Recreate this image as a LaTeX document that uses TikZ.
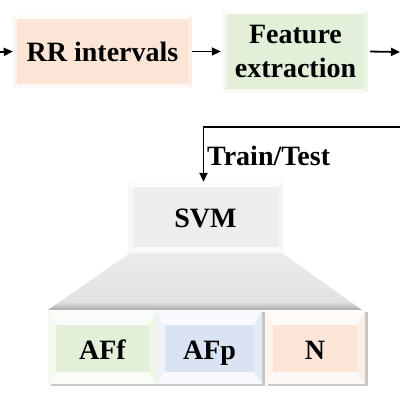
\documentclass[tikz,border=0pt]{standalone}
\usepackage{fontspec}
\setmainfont{Liberation Serif}
\usetikzlibrary{arrows.meta,shadows}
\definecolor{peach}{HTML}{FBE5D6}
\definecolor{lgreen}{HTML}{E2F0D9}
\definecolor{lblue}{HTML}{DAE3F3}
\definecolor{lgray}{HTML}{EDEDED}
\tikzset{
  bev/.style n args={4}{fill=#1, draw=none, inner sep=0pt,
    font=\bfseries\fontsize{28}{34}\selectfont,
    path picture={
      \fill[white,opacity=.85] (path picture bounding box.north west) -- (path picture bounding box.north east)
        -- ([xshift=-#2,yshift=-#3]path picture bounding box.north east) -- ([xshift=#2,yshift=-#3]path picture bounding box.north west) -- cycle;
      \fill[white,opacity=.8] (path picture bounding box.south west) -- (path picture bounding box.south east)
        -- ([xshift=-#2,yshift=#4]path picture bounding box.south east) -- ([xshift=#2,yshift=#4]path picture bounding box.south west) -- cycle;
      \fill[white,opacity=.6] (path picture bounding box.north west) -- ([xshift=#2,yshift=-#3]path picture bounding box.north west)
        -- ([xshift=#2,yshift=#4]path picture bounding box.south west) -- (path picture bounding box.south west) -- cycle;
      \fill[white,opacity=.35] (path picture bounding box.north east) -- ([xshift=-#2,yshift=-#3]path picture bounding box.north east)
        -- ([xshift=-#2,yshift=#4]path picture bounding box.south east) -- (path picture bounding box.south east) -- cycle;
    }},
  conn/.style={line width=1.8pt, -{Triangle[length=9pt,width=8pt]}},
  boxshadow/.style={drop shadow={shadow xshift=2.5pt, shadow yshift=-2pt, opacity=.45, fill=gray}},
  lbl/.style={font=\bfseries\fontsize{28}{34}\selectfont, inner sep=0pt}
}
\begin{document}
\begin{tikzpicture}[x=1pt,y=-1pt]
\useasboundingbox (0,0) rectangle (400,400);
% top row
\node[bev={peach}{4pt}{4pt}{4pt}, minimum width=179pt, minimum height=73pt, text height=19pt, text depth=0pt] (rr) at (102.5,51.5) {RR intervals};
\node[bev={lgreen}{4pt}{4pt}{4pt}, minimum width=145pt, minimum height=83pt, align=center] (fe) at (295.5,51.5) {Feature\\extraction};
\coordinate (in) at (0,52);
\coordinate (out) at (400,52);
\coordinate (tt) at (400,127);
\draw[conn] (in) -- (rr.west);
\draw[conn, shorten >=2pt] (rr.east) -- (fe.west);
\draw[conn, shorten <=2pt] (fe.east) -- (out);
% trapezoid
\shade[top color=gray!15, bottom color=gray!24] (130,253) -- (282,253) -- (362,310) -- (48,310) -- cycle;
\shade[top color=gray!24, bottom color=gray!66] (59.5,302) -- (350.2,302) -- (362,310) -- (48,310) -- cycle;
% SVM
\node[bev={lgray}{5pt}{5pt}{6pt}, minimum width=155pt, minimum height=71pt, text height=19pt, text depth=0pt] (svm) at (205.5,217.5) {SVM};
\draw[conn] (tt) -| ([xshift=-2pt]svm.north);
\node[lbl, anchor=base west] (tl) at (207,165) {Train/Test};
% classes
\node[bev={lgreen}{8pt}{15pt}{12pt}, boxshadow, minimum width=109pt, minimum height=74pt, text height=24pt, text depth=0pt] (aff) at (102.5,347) {AFf};
\node[bev={lblue}{8pt}{15pt}{12pt}, boxshadow, minimum width=105pt, minimum height=74pt, text height=24pt, text depth=0pt] (afp) at (209.5,347) {AFp};
\node[bev={peach}{8pt}{15pt}{12pt}, boxshadow, minimum width=100pt, minimum height=74pt, text height=24pt, text depth=0pt] (n) at (315,347) {N};
\end{tikzpicture}
\end{document}
